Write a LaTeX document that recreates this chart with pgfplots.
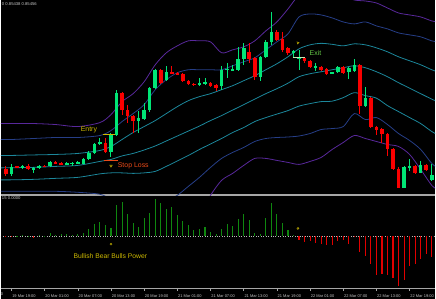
\documentclass[border=0pt]{standalone}
\usepackage{pgfplots}
\pgfplotsset{compat=1.18}
\usepackage{pgfplotstable}
\usepackage{fontspec}
\setmainfont{Liberation Sans}
\definecolor{bullc}{RGB}{0,230,118}
\definecolor{bearc}{RGB}{250,0,0}
\definecolor{bpurple}{RGB}{88,40,155}
\definecolor{bblue}{RGB}{38,62,135}
\definecolor{bteal}{RGB}{28,135,155}
\definecolor{hgreen}{RGB}{15,135,15}
\definecolor{hred}{RGB}{225,0,0}
\definecolor{gold}{RGB}{205,185,0}
\definecolor{slc}{RGB}{235,75,25}
\definecolor{exitc}{RGB}{100,200,70}
\definecolor{lbl}{RGB}{200,200,200}

% candles: y = pixel row (reversed axis)
\pgfplotstableread{
i o h l c
-1 169.3 167.0 176.7 174.3
1 167.3 166.5 169.0 168.0
3 166.3 165.0 171.0 170.0
6 166.3 165.5 168.0 167.3
8 162.7 162.0 164.5 163.7
9 163.7 163.0 165.5 164.7
17 143.3 138.3 154.0 152.7
20 93.3 92.0 115.0 110.0
21 110.0 105.0 123.0 116.7
22 116.7 115.0 133.3 121.0
27 70.0 69.0 84.5 83.3
29 72.3 66.7 74.0 73.3
30 73.3 72.0 75.5 74.3
31 74.3 73.5 82.0 81.0
32 81.0 80.0 85.5 84.5
33 84.0 83.0 86.0 85.0
36 83.3 82.0 87.0 86.0
37 85.0 84.0 91.7 88.3
43 51.7 43.3 63.3 59.0
44 58.3 57.0 80.0 77.0
48 31.7 30.0 41.0 39.7
49 39.3 31.7 52.0 50.0
50 48.3 47.0 55.0 53.3
53 58.3 57.0 63.0 61.7
54 61.7 60.0 68.0 67.0
56 67.3 66.0 71.0 70.0
57 69.3 68.0 75.0 74.0
60 67.5 66.0 74.0 73.0
63 65.0 64.0 114.0 106.0
65 98.3 97.0 128.5 127.3
66 127.3 126.0 135.0 130.7
67 129.3 128.0 143.3 134.3
68 134.3 133.0 156.7 150.0
69 150.0 149.0 170.5 169.3
70 169.3 168.0 189.0 188.3
73 166.7 165.5 174.5 173.3
75 165.7 164.5 172.0 171.0
}\beartab

\pgfplotstableread{
i o h l c
0 174.3 164.3 176.7 167.3
2 168.3 165.5 169.5 166.3
4 171.0 168.0 174.0 168.7
5 169.0 165.5 170.0 166.3
7 166.7 161.5 167.5 162.7
10 165.3 163.0 166.0 163.7
11 164.3 162.5 166.7 163.5
12 163.5 162.0 164.0 163.0
13 164.3 159.0 165.0 160.0
14 160.0 152.0 161.0 153.3
15 154.0 143.3 155.0 145.0
16 145.0 138.7 146.0 143.0
18 152.7 133.0 157.3 135.0
19 135.0 90.0 136.0 93.3
23 121.0 111.7 133.3 118.3
24 119.3 103.3 120.5 110.7
25 110.7 87.0 112.0 88.3
26 88.3 69.0 89.5 70.0
28 80.7 66.7 81.5 72.3
34 85.3 78.3 86.0 83.3
35 84.0 78.3 85.0 82.7
38 86.7 66.7 90.0 70.0
39 70.0 63.3 78.0 69.3
40 70.3 65.0 71.0 69.7
41 70.7 46.7 71.5 59.3
42 59.3 42.7 65.0 48.3
45 77.0 56.0 81.5 57.3
46 57.3 40.5 58.5 41.7
47 41.7 11.7 45.0 31.7
51 52.7 50.0 58.0 51.0
52 58.5 50.0 70.0 57.7
55 68.3 63.3 71.7 66.7
58 73.3 72.0 74.5 72.3
59 72.7 66.5 73.5 67.5
61 72.5 67.0 79.0 68.0
62 71.5 59.0 72.5 65.0
64 106.0 87.3 107.0 98.3
71 188.3 166.5 189.0 167.7
72 168.0 159.3 171.7 166.9
74 173.3 161.7 174.0 165.7
76 180.7 165.0 181.5 176.0
}\bulltab

\pgfplotstableread{
i p3 p2 p1 m m1 m2 m3
-2 124 140 156 168.5 180.5 192 205
0 124 140 156 168.3 180.5 192 205
4 124 139 155.5 168 180 192 203
8 125 138 155 167 179 192 200
12 127 138 154 166 178 193 198
16 123 136 151 162 174.5 195 198
18 115 131 147 160 173.5 200 205
20 102 122 140 156.5 173.5 206 215
22 94 114 133 154 174 210 220
24 82 105 127 150.5 173.5 210 220
26 65 90 121 146.5 172 206 220
28 53 80 114 141.5 167 202 220
30 46 73 107 136.5 161.5 196 220
32 41 70 101 131.5 156 187 220
34 41 70 97 126.5 150 178 215
36 42 70 94 121 144.5 168 196
38 53 70 90 116 139 159 181
40 50 66 86 110.5 133 153 174
42 47 62 81 105 128 148 166
44 41 58 76 99.5 122 142 159
46 31 50 70 94 118 139 159
48 22 42 64 89 114.5 138 161
50 9 34 57 83.5 111 137.5 163
52 -5 17 49 77 106.5 136.5 165
54 -10 14 45 74 104 134 162
56 -10 15 43.5 72 102 130 158
58 -8 18 44.5 70 101.5 129 150
60 -4 22 46 68 98 127 143
62 0 24 44 66 93 114 136
64 1 22 45 68 96 120 139
66 3 26 48 72 98.5 118 142
68 8 29 52 77 106 125 145
70 13 33 57 83 112 134 147
72 15 35 61 88.5 118 141 155
74 17 37 65 94 124 150 170
76 21 41 70 99.5 132 164 186
77 22 42 72 102 135 168 190
}\bands

\begin{document}
\begin{tikzpicture}[x=1bp,y=1bp]
\fill[black] (0,0) rectangle (436,300);
\draw[gray!70, line width=1.6bp] (0,104) -- (436,104);
\draw[gray!70, line width=1bp] (0,10) -- (436,10);
\node[anchor=west, inner sep=0pt, text=lbl, font=\fontsize{4.2}{4.2}\selectfont] at (1,295.5) {0 0.85438 0.85456};
\node[anchor=west, inner sep=0pt, text=lbl, font=\fontsize{4.2}{4.2}\selectfont] at (1,101) {15 0.0000};
\node[anchor=west, inner sep=0pt, text=lbl, font=\fontsize{4}{4}\selectfont] at (0,5) {0};

\begin{axis}[at={(0bp,104bp)}, anchor=south west, scale only axis,
  width=436bp, height=196bp, xmin=-1.928, xmax=76.63, ymin=0, ymax=196,
  y dir=reverse, hide axis, clip=true]
\addplot[bpurple, line width=0.8bp, smooth] table[x=i, y=p3] \bands;
\addplot[bblue, line width=0.8bp, smooth] table[x=i, y=p2] \bands;
\addplot[bteal, line width=0.8bp, smooth] table[x=i, y=p1] \bands;
\addplot[bteal, line width=0.8bp, smooth] table[x=i, y=m] \bands;
\addplot[bteal, line width=0.8bp, smooth] table[x=i, y=m1] \bands;
\addplot[bblue, line width=0.8bp, smooth] table[x=i, y=m2] \bands;
\addplot[bpurple, line width=0.8bp, smooth] table[x=i, y=m3] \bands;
% wicks
\addplot[draw=none, mark=none, error bars/.cd, y dir=both, y explicit, error mark=none,
  error bar style={line width=1bp, draw=bullc}]
  table[x=i, y expr={(\thisrow{h}+\thisrow{l})/2}, y error expr={(\thisrow{l}-\thisrow{h})/2}] \bulltab;
\addplot[draw=none, mark=none, error bars/.cd, y dir=both, y explicit, error mark=none,
  error bar style={line width=1bp, draw=bearc}]
  table[x=i, y expr={(\thisrow{h}+\thisrow{l})/2}, y error expr={(\thisrow{l}-\thisrow{h})/2}] \beartab;
% bodies
\addplot[draw=none, mark=none, error bars/.cd, y dir=both, y explicit, error mark=none,
  error bar style={line width=3.6bp, draw=bullc}]
  table[x=i, y expr={(\thisrow{o}+\thisrow{c})/2}, y error expr={max(abs(\thisrow{o}-\thisrow{c})/2,0.6)}] \bulltab;
\addplot[draw=none, mark=none, error bars/.cd, y dir=both, y explicit, error mark=none,
  error bar style={line width=3.6bp, draw=bearc}]
  table[x=i, y expr={(\thisrow{o}+\thisrow{c})/2}, y error expr={max(abs(\thisrow{o}-\thisrow{c})/2,0.6)}] \beartab;
% trade annotations
\addplot[gold, line width=1bp] coordinates {(16.6,135) (18.8,135)};
\addplot[slc, line width=1bp] coordinates {(16.8,160.7) (19.2,160.7)};
\addplot[exitc!40!white, line width=1bp] coordinates {(50.9,57.3) (53,57.3)};
\addplot[only marks, mark=triangle, mark size=1.4bp, gold, mark options={rotate=180}] coordinates {(18,166.5)};
\addplot[only marks, mark=triangle, mark size=1.3bp, gold, mark options={rotate=45}] coordinates {(51.8,43)};
\node[anchor=west, inner sep=0pt, text=gold, font=\fontsize{7}{7}\selectfont] at (axis cs:12.5,130) {Entry};
\node[anchor=west, inner sep=0pt, text=slc, font=\fontsize{7}{7}\selectfont] at (axis cs:19.2,166.3) {Stop Loss};
\node[anchor=west, inner sep=0pt, text=exitc, font=\fontsize{7}{7}\selectfont] at (axis cs:53.9,53) {Exit};
\end{axis}

\begin{axis}[at={(0bp,10bp)}, anchor=south west, scale only axis,
  width=436bp, height=92bp, xmin=-1.928, xmax=76.63, ymin=-53.3, ymax=38.7,
  axis line style={draw=none}, ytick=\empty,
  xtick={0,6,...,72}, xtick pos=bottom, tick align=outside, major tick length=2bp,
  xtick style={draw=gray!70, line width=0.5bp},
  xticklabels={19 Mar 19:00,20 Mar 01:00,20 Mar 07:00,20 Mar 13:00,20 Mar 19:00,21 Mar 01:00,21 Mar 07:00,21 Mar 13:00,21 Mar 19:00,22 Mar 01:00,22 Mar 07:00,22 Mar 13:00,22 Mar 19:00},
  xticklabel style={anchor=west, yshift=-5bp, xshift=0.6bp, inner sep=0pt, text=lbl, font=\fontsize{4}{4}\selectfont},
  clip=true]
\addplot[gray!55, dotted, line width=0.45bp] coordinates {(-2,0) (77,0)};
\addplot[ycomb, hgreen, line width=1.1bp] coordinates {
(1,0.3) (2,0.5) (3,0.3) (5,0.5) (6,0.3) (7,3) (8,1) (9,2) (10,1.7) (11,0.5) (12,1.7) (13,3)
(14,7.3) (15,12.3) (16,13.7) (17,11) (18,8) (19,31) (20,34.3) (21,21.7) (22,13) (23,9.3)
(24,17.7) (25,22.7) (26,37) (27,32.7) (28,27) (29,29) (30,21) (31,15) (32,10.7) (33,6.3)
(34,7.3) (35,8.7) (36,4.3) (37,2) (38,7.3) (39,11.7) (40,10) (41,17.3) (42,21.7) (43,15.7)
(44,2.7) (45,2) (46,17.7) (47,33.3) (48,21.7) (49,13.3) (50,6) (51,0.7)};
\addplot[ycomb, hred, line width=1.1bp] coordinates {
(-1,-0.7) (0,-0.7) (4,-2) (52,-4) (53,-6) (54,-5) (55,-7.3) (56,-8.3) (57,-9) (58,-9) (59,-5)
(60,-4) (61,-8.3) (62,-0.3) (63,-16.7) (64,-20) (65,-28.3) (66,-39) (67,-38.3) (68,-39.3)
(69,-42.7) (70,-50) (71,-44) (72,-30) (73,-28.3) (74,-23.3) (75,-18.3) (76,-21)};
\addplot[only marks, mark=o, mark size=1bp, gold, line width=0.5bp] coordinates {(18,-8.3) (51.8,7.4)};
\node[anchor=west, inner sep=0pt, text=gold, font=\fontsize{6.8}{6.8}\selectfont] at (axis cs:11.2,-20.3) {Bullish Bear Bulls Power};
\end{axis}
\end{tikzpicture}
\end{document}
